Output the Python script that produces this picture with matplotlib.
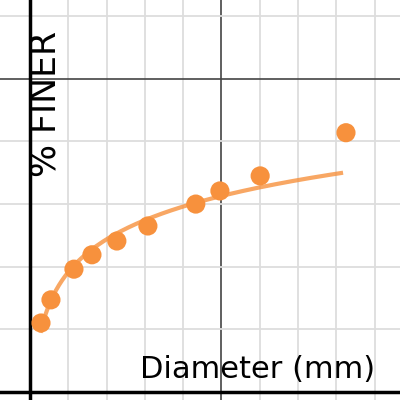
import numpy as np
import matplotlib
matplotlib.use("Agg")
import matplotlib.pyplot as plt

diameter = [0.29, 0.55, 1.15, 1.62, 2.27, 3.08, 4.33, 4.96, 6.01, 8.25]
finer = [1.10, 1.47, 1.96, 2.19, 2.41, 2.65, 3.00, 3.21, 3.45, 4.14]

fig = plt.figure(figsize=(4, 4), dpi=100)
ax = fig.add_axes([0, 0, 1, 1])
ax.set_xlim(-0.78, 9.66)
ax.set_ylim(-0.13, 6.26)
for v in range(0, 10):
    ax.axvline(v, color="#444444" if v == 5 else "#dddddd", lw=1.2 if v == 5 else 1.3, zorder=0)
for v in range(0, 7):
    ax.axhline(v, color="#444444" if v == 5 else "#dddddd", lw=1.2 if v == 5 else 1.3, zorder=0)
ax.axvline(0, color="black", lw=2.5, zorder=1)
ax.axhline(0, color="black", lw=2.5, zorder=1)

b, a = np.polyfit(np.log(diameter[:-1]), finer[:-1], 1)
xs = np.linspace(diameter[0], 8.12, 200)
ax.plot(xs, a + b * np.log(xs), color="#f7913d", lw=3, alpha=0.8, zorder=2)
ax.scatter(diameter, finer, s=190, color="#f7913d", zorder=3, edgecolors="none")

ax.text(1.0 / 38.3 * 16, 4.6, "% FINER", rotation=90, fontsize=25, ha="center", va="center")
ax.text(9.0, 0.22, "Diameter (mm)", fontsize=22, ha="right", va="baseline")
ax.set_xticks([]); ax.set_yticks([])
for s in ax.spines.values():
    s.set_visible(False)
fig.savefig("out.png", dpi=100)
